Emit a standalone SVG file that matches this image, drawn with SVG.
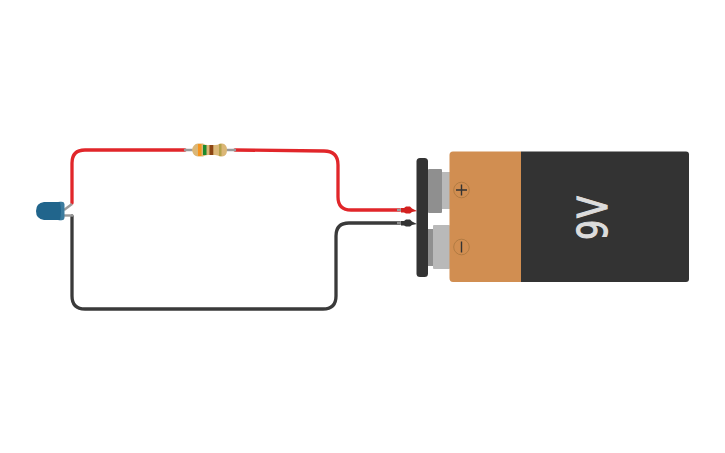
<svg xmlns="http://www.w3.org/2000/svg" width="725" height="453" viewBox="0 0 725 453">
<style>
.w{fill:none;stroke-width:3.300;stroke-linecap:round;stroke-linejoin:round}
.red{stroke:#e1262a}.blk{stroke:#3a3a3a}
.lead{fill:none;stroke:#9a9a9a;stroke-width:2.400}
.sym{fill:none;stroke:#333;stroke-width:1.400}
.ring{fill:none;stroke:#a9763f;stroke-width:.8}
</style>
<rect width="725" height="453" fill="#fff"/>
<g id="connectors">
<path class="w red" d="M72 203V163Q72 150 85 150H185"/>
<path class="w red" d="M235 150L324 151Q338 151 338 165V197Q338 210 351 210H400"/>
<path class="w blk" d="M72 216V296Q72 309 85 309H323Q336 309 336 296V236Q336 223 349 223H400"/>
</g>
<g id="led">
<path class="lead" d="M64 210L72 204"/>
<path class="lead" d="M64 215.500H73"/>
<path d="M44 202H58Q63 201 64 204V218Q63 221 58 220H44Q36 219 36 211Q36 203 44 202Z" fill="#21658c"/>
<path d="M60 202Q64 201 64.500 204V218Q64 221 60 220Q62 211 60 202Z" fill="#3a7b9e"/>
</g>
<g id="resistor">
<path d="M184 150H194M224 150H236" stroke="#9a9a9a" stroke-width="2.400" fill="none"/>
<path d="M192 150Q193 144 198 143.500H203Q205 145 208 145H215Q218 145 220 143.500H222Q227 144 227 150Q227 156 222 156.500H220Q218 155 215 155H208Q205 155 203 156.500H198Q193 156 192 150Z" fill="#dbb777"/>
<rect x="198" y="144" width="3.500" height="12" fill="#f7941d"/>
<rect x="203" y="145" width="3.500" height="10" fill="#1c8a2d"/>
<rect x="209.500" y="145" width="3.800" height="10" fill="#8b4513"/>
<rect x="219" y="144" width="2.500" height="12" fill="#b3a24a"/>
</g>
<g id="battery">
<rect x="428" y="169" width="14" height="44" rx="1" fill="#8f8f8f"/>
<rect x="442" y="172" width="8" height="37" fill="#b9b9b9"/>
<rect x="428" y="229" width="6" height="37" fill="#8f8f8f"/>
<rect x="433" y="225" width="17" height="44" rx="1" fill="#b9b9b9"/>
<rect x="416.500" y="158" width="11.500" height="119" rx="3.500" fill="#333"/>
<path d="M453 151.500H521V282H453Q449.500 282 449.500 278V155Q449.500 151.500 453 151.500Z" fill="#d18e51"/>
<path d="M521 151.500H686Q689 151.500 689 154.500V279Q689 282 686 282H521Z" fill="#333"/>
<circle class="ring" cx="461.500" cy="190" r="7.800"/>
<circle class="ring" cx="461.500" cy="247" r="7.800"/>
<path class="sym" d="M456 190H467M461.500 184.500V195.500"/>
<path class="sym" d="M461.500 241.500V252.500"/>
<text transform="translate(606.500 240) rotate(-90) scale(.8 1)" font-family="'DejaVu Sans',sans-serif" font-size="40" letter-spacing="2" stroke="#dcdcdc" stroke-width="1.200" fill="#dcdcdc">9V</text>
</g>
<g id="plug-red">
<path d="M397 210H402" stroke="#9a9a9a" stroke-width="2.400"/>
<path d="M401 208H404L406 206.500H410L412 208.500L417 211L412 212L410 213.500H406L404 212.500H401Z" fill="#d3201f"/>
</g>
<g id="plug-black">
<path d="M397 223H402" stroke="#8a8a8a" stroke-width="2.400"/>
<path d="M401 221H404L406 219.500H410L412 221.500L417 224L412 225L410 226.500H406L404 225.500H401Z" fill="#333"/>
</g>
</svg>
